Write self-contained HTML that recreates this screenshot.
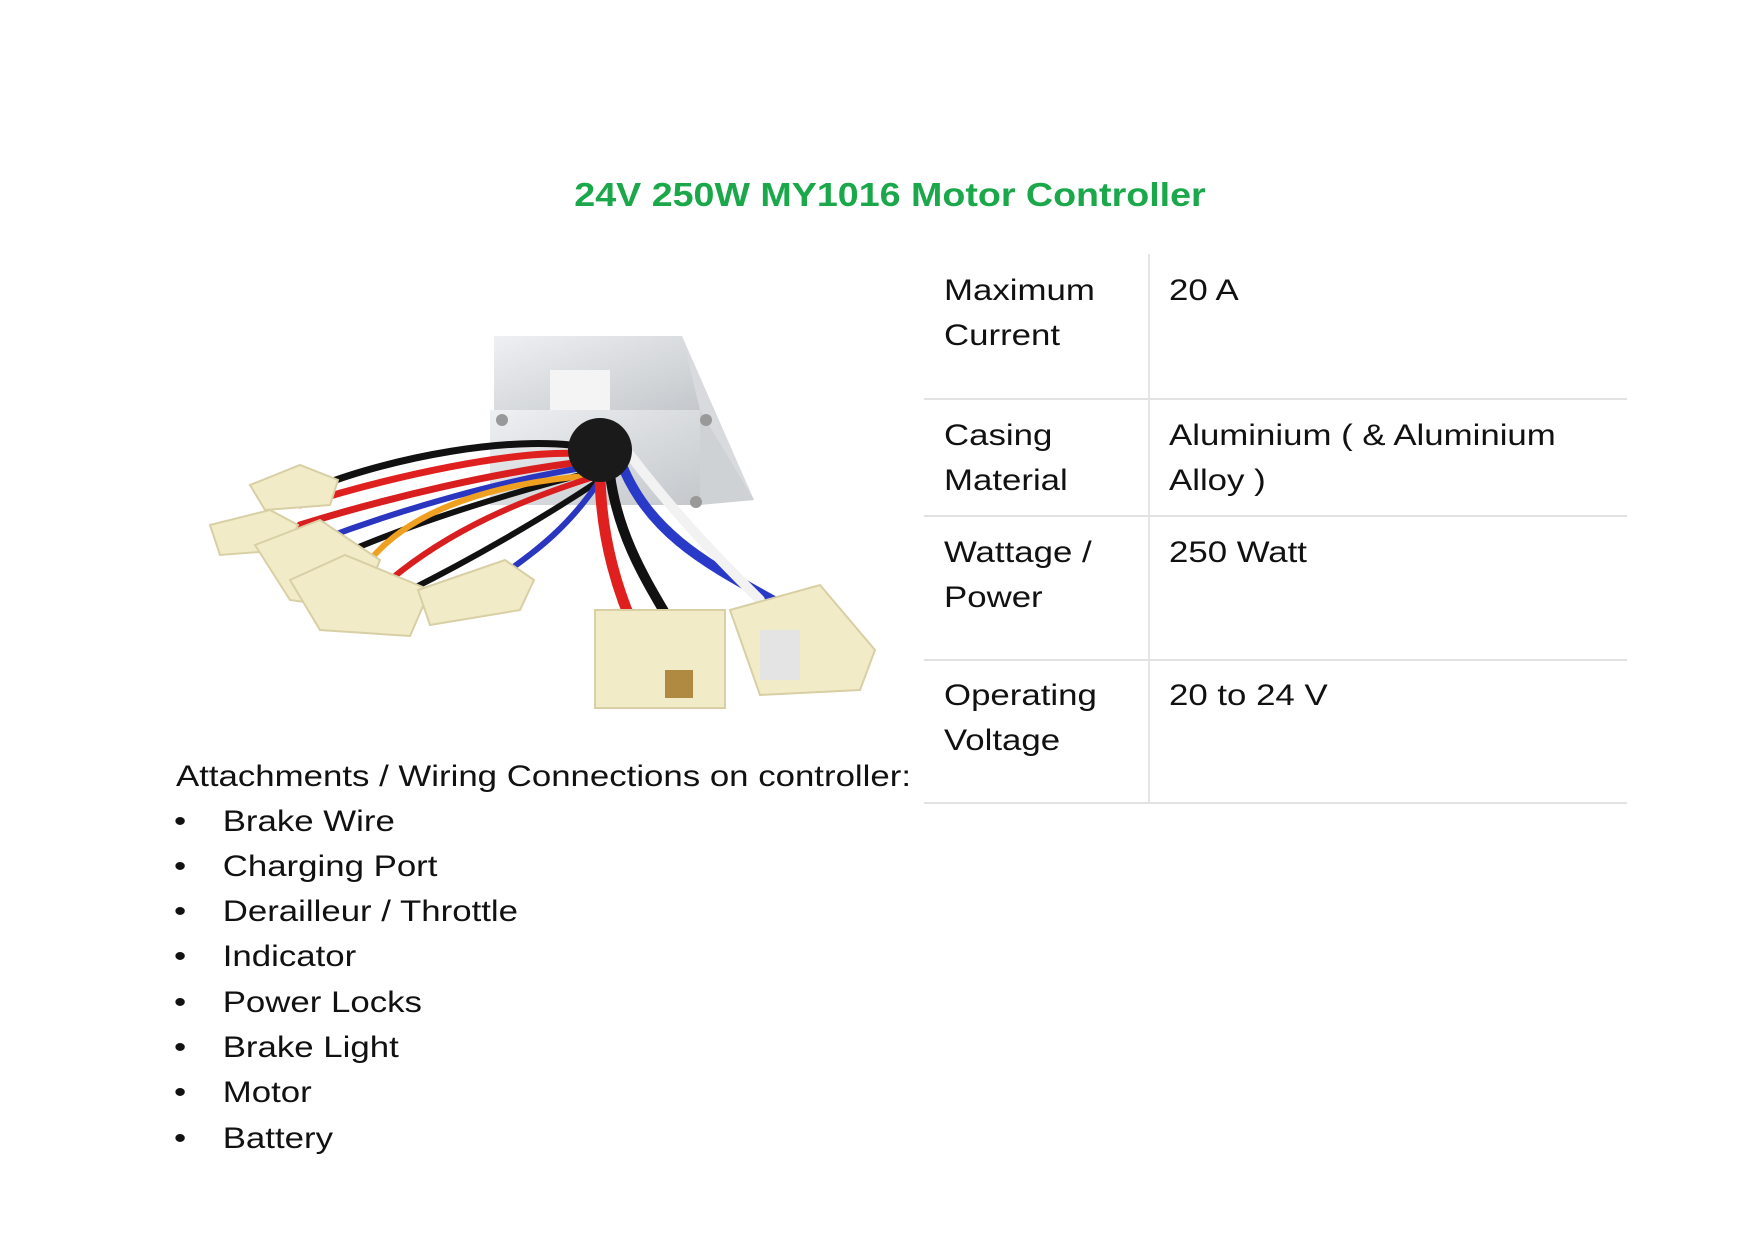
<!DOCTYPE html>
<html><head><meta charset="utf-8"><style>
body{margin:0;width:1755px;height:1240px;background:#fff;position:relative;overflow:hidden;font-family:"Liberation Sans",sans-serif;color:#111}
.t{position:absolute;white-space:nowrap;line-height:1}
#title{left:0;width:1780px;text-align:center;top:178px;font-size:33px;font-weight:bold;color:#1aa84a;transform:scaleX(1.14);transform-origin:890px 0}
.c{font-size:30px;transform:scaleX(1.16);transform-origin:0 0}
.hl{position:absolute;height:2px;background:#e2e2e2;left:924px;width:703px}
</style></head><body>
<div class="t" id="title">24V 250W MY1016 Motor Controller</div>

<div style="position:absolute;left:1148px;top:254px;width:2px;height:550px;background:#e6e6e6"></div>
<div class="hl" style="top:398px"></div>
<div class="hl" style="top:515px"></div>
<div class="hl" style="top:659px"></div>
<div class="hl" style="top:802px"></div>

<div class="t c" style="left:944px;top:276px">Maximum</div>
<div class="t c" style="left:944px;top:321px">Current</div>
<div class="t c" style="left:1169px;top:276px">20 A</div>
<div class="t c" style="left:944px;top:421px">Casing</div>
<div class="t c" style="left:944px;top:466px">Material</div>
<div class="t c" style="left:1169px;top:421px">Aluminium ( &amp; Aluminium</div>
<div class="t c" style="left:1169px;top:466px">Alloy )</div>
<div class="t c" style="left:944px;top:538px">Wattage /</div>
<div class="t c" style="left:944px;top:583px">Power</div>
<div class="t c" style="left:1169px;top:538px">250 Watt</div>
<div class="t c" style="left:944px;top:681px">Operating</div>
<div class="t c" style="left:944px;top:726px">Voltage</div>
<div class="t c" style="left:1169px;top:681px">20 to 24 V</div>

<div class="t c" style="left:176px;top:762px">Attachments / Wiring Connections on controller:</div>
<div class="t c" style="left:174px;top:807px">•<span style="position:absolute;left:42px">Brake Wire</span></div>
<div class="t c" style="left:174px;top:852px">•<span style="position:absolute;left:42px">Charging Port</span></div>
<div class="t c" style="left:174px;top:897px">•<span style="position:absolute;left:42px">Derailleur / Throttle</span></div>
<div class="t c" style="left:174px;top:942px">•<span style="position:absolute;left:42px">Indicator</span></div>
<div class="t c" style="left:174px;top:988px">•<span style="position:absolute;left:42px">Power Locks</span></div>
<div class="t c" style="left:174px;top:1033px">•<span style="position:absolute;left:42px">Brake Light</span></div>
<div class="t c" style="left:174px;top:1078px">•<span style="position:absolute;left:42px">Motor</span></div>
<div class="t c" style="left:174px;top:1124px">•<span style="position:absolute;left:42px">Battery</span></div>

<svg style="position:absolute;left:0;top:0" width="1755" height="1240">
<defs><linearGradient id="al" x1="0" y1="0" x2="1" y2="1"><stop offset="0" stop-color="#eef0f2"/><stop offset="1" stop-color="#c4c8cc"/></linearGradient></defs>
<polygon points="494,336 682,336 754,500 690,505 494,410" fill="#d8dadd"/>
<polygon points="494,336 682,336 700,410 494,410" fill="url(#al)"/>
<rect x="490" y="410" width="210" height="95" fill="url(#al)"/>
<polygon points="700,410 754,500 700,505" fill="#cfd2d5"/>
<rect x="550" y="370" width="60" height="40" fill="#f4f4f4"/>
<circle cx="502" cy="420" r="6" fill="#999"/><circle cx="706" cy="420" r="6" fill="#999"/><circle cx="696" cy="502" r="6" fill="#999"/>
<g fill="none" stroke-linecap="round">
<path d="M600,450 C520,430 380,460 310,490" stroke="#111" stroke-width="7"/>
<path d="M600,455 C520,445 380,480 300,505" stroke="#e0201f" stroke-width="7"/>
<path d="M600,460 C500,470 380,500 300,525" stroke="#d81e1e" stroke-width="7"/>
<path d="M600,465 C500,480 400,510 320,540" stroke="#2a35c0" stroke-width="6"/>
<path d="M600,470 C520,490 420,520 340,555" stroke="#111" stroke-width="6"/>
<path d="M600,475 C520,480 420,500 370,560" stroke="#f0a020" stroke-width="6"/>
<path d="M600,475 C520,500 450,530 390,580" stroke="#d81e1e" stroke-width="6"/>
<path d="M600,480 C540,520 470,560 410,590" stroke="#111" stroke-width="6"/>
<path d="M600,480 C560,540 520,560 490,585" stroke="#2a35c0" stroke-width="6"/>
<path d="M600,470 C600,540 620,600 640,640" stroke="#e0201f" stroke-width="11"/>
<path d="M610,475 C620,550 660,600 680,640" stroke="#111" stroke-width="10"/>
<path d="M620,460 C650,540 720,570 790,610" stroke="#2a3ac8" stroke-width="10"/>
<path d="M630,455 C680,520 720,560 760,600" stroke="#f2f2f2" stroke-width="10"/>
</g>
<circle cx="600" cy="450" r="32" fill="#1a1a1a"/>
<g fill="#f2ebc8" stroke="#d8cfa4" stroke-width="2">
<polygon points="250,485 300,465 338,480 330,505 265,510"/>
<polygon points="210,525 270,510 298,525 285,550 220,555"/>
<polygon points="255,545 320,520 380,560 360,610 290,600"/>
<polygon points="290,580 345,555 430,590 410,636 320,630"/>
<polygon points="418,590 505,560 534,580 520,610 430,625"/>
<rect x="595" y="610" width="130" height="98"/>
<polygon points="730,610 820,585 875,650 860,690 760,695"/>
</g>
<rect x="760" y="630" width="40" height="50" fill="#e4e4e4"/>
<rect x="665" y="670" width="28" height="28" fill="#b08a40"/>
</svg>
</body></html>
